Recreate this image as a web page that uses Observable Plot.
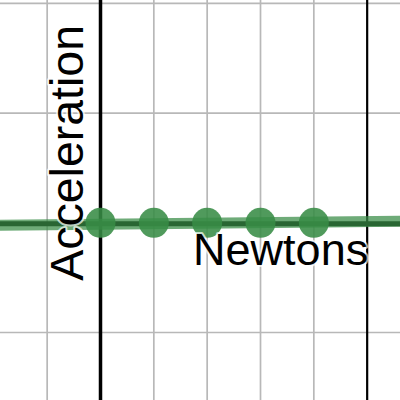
<!DOCTYPE html>
<html>
<head>
<meta charset="utf-8">
<script src="https://cdn.jsdelivr.net/npm/d3@7"></script>
<script src="https://cdn.jsdelivr.net/npm/@observablehq/plot@0.6"></script>
<style>
  html, body { margin: 0; padding: 0; background: #fff; }
  svg { display: block; }
</style>
</head>
<body>
<div id="chart"></div>
<script>
// data
const pointX = [0, 1, 2, 3, 4];
const pointY = [0, 0, 0, 0, 0];
const fitX = [-1.9, 5.7];
const fitY = [-0.023, 0.014];
const gridXTicks = [-1, 1, 2, 3, 4];
const gridYTicks = [-1, 1, 2];
const axisXAt = [0];
const extraLineX = [5];
const labelText = ["Newtons", "Acceleration"];
const labelX = [5, 0];
const labelY = [0, 0];

const points = pointX.map((x, i) => ({x, y: pointY[i]}));
const fit = fitX.map((x, i) => ({x, y: fitY[i]}));

const chart = Plot.plot({
  width: 400,
  height: 400,
  margin: 0,
  style: {background: "#fff", fontFamily: "'Liberation Sans', Arial, sans-serif"},
  x: {domain: [-1.875, 5.625], axis: null},
  y: {domain: [-1.62, 2.027], axis: null},
  marks: [
    Plot.ruleX(gridXTicks, {stroke: "#b8b8b8", strokeWidth: 1.7}),
    Plot.ruleY(gridYTicks, {stroke: "#b8b8b8", strokeWidth: 1.7}),
    Plot.ruleX(axisXAt, {stroke: "#000", strokeWidth: 3.5}),
    Plot.ruleX(extraLineX, {stroke: "#000", strokeWidth: 2.2}),
    Plot.ruleY([0], {stroke: "#000", strokeWidth: 5, dy: 1}),
    Plot.line(fit, {x: "x", y: "y", stroke: "#388c46", strokeOpacity: 0.73, strokeWidth: 11}),
    Plot.dot(points, {x: "x", y: "y", r: 15, fill: "#388c46", fillOpacity: 0.88, stroke: "none"}),
    Plot.text([0], {
      x: () => labelX[0], y: () => labelY[0], text: () => labelText[0],
      textAnchor: "end", lineAnchor: "bottom", dy: 42, dx: 1, fontSize: 45,
      fill: "#000", stroke: "#fff", strokeWidth: 4, strokeOpacity: 0.7
    }),
    Plot.text([0], {
      x: () => labelX[1], y: () => labelY[1], text: () => labelText[1],
      rotate: -90, textAnchor: "start", lineAnchor: "bottom", dx: -18, dy: 58, fontSize: 46.5,
      fill: "#000", stroke: "#fff", strokeWidth: 4, strokeOpacity: 0.7
    })
  ]
});
document.getElementById("chart").appendChild(chart);
</script>
</body>
</html>
